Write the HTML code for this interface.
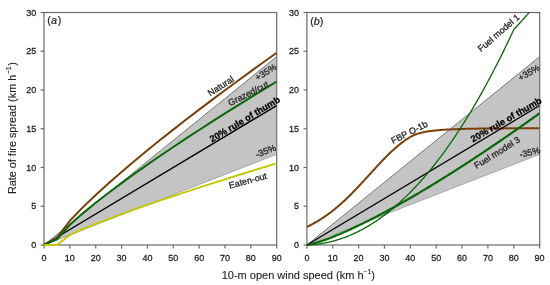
<!DOCTYPE html>
<html><head><meta charset="utf-8"><style>
html,body{margin:0;padding:0;background:#fff;width:550px;height:285px;overflow:hidden}
svg{display:block}
text{font-family:"Liberation Sans",Arial,sans-serif}
.tk{font-size:9px;fill:#222;stroke:#222;stroke-width:0.25px}
.ax{font-size:11px;fill:#222;stroke:#222;stroke-width:0.1px}
.pl{font-size:10.8px;fill:#222;stroke:#222;stroke-width:0.2px}
.lb{font-size:9px;fill:#262626;stroke:#262626;stroke-width:0.3px}
.lbb{font-size:9.25px;font-weight:bold;fill:#000;stroke:#000;stroke-width:0.25px}
</style></head><body>
<svg width="550" height="285" viewBox="0 0 550 285">
<defs><clipPath id="ca"><rect x="44.6" y="12.5" width="231.50" height="232.50"/></clipPath><clipPath id="cb"><rect x="307.5" y="12.5" width="231.60" height="232.50"/></clipPath><clipPath id="la"><rect x="41.5" y="12.5" width="235.20" height="235.00"/></clipPath><clipPath id="lb"><rect x="304.4" y="12.5" width="235.30" height="235.00"/></clipPath></defs>
<rect width="550" height="285" fill="#fff"/>
<rect x="44.0" y="12.5" width="232.70" height="232.50" fill="none" stroke="#6a6a6a" stroke-width="1.2"/>
<line x1="40.60" y1="245.00" x2="44.0" y2="245.00" stroke="#6a6a6a" stroke-width="1.2"/>
<text transform="translate(36.20,248.00) scale(1,1.1)" text-anchor="end" class="tk">0</text>
<line x1="40.60" y1="206.25" x2="44.0" y2="206.25" stroke="#6a6a6a" stroke-width="1.2"/>
<text transform="translate(36.20,209.25) scale(1,1.1)" text-anchor="end" class="tk">5</text>
<line x1="40.60" y1="167.50" x2="44.0" y2="167.50" stroke="#6a6a6a" stroke-width="1.2"/>
<text transform="translate(36.20,170.50) scale(1,1.1)" text-anchor="end" class="tk">10</text>
<line x1="40.60" y1="128.75" x2="44.0" y2="128.75" stroke="#6a6a6a" stroke-width="1.2"/>
<text transform="translate(36.20,131.75) scale(1,1.1)" text-anchor="end" class="tk">15</text>
<line x1="40.60" y1="90.00" x2="44.0" y2="90.00" stroke="#6a6a6a" stroke-width="1.2"/>
<text transform="translate(36.20,93.00) scale(1,1.1)" text-anchor="end" class="tk">20</text>
<line x1="40.60" y1="51.25" x2="44.0" y2="51.25" stroke="#6a6a6a" stroke-width="1.2"/>
<text transform="translate(36.20,54.25) scale(1,1.1)" text-anchor="end" class="tk">25</text>
<line x1="40.60" y1="12.50" x2="44.0" y2="12.50" stroke="#6a6a6a" stroke-width="1.2"/>
<text transform="translate(36.20,15.50) scale(1,1.1)" text-anchor="end" class="tk">30</text>
<line x1="44.00" y1="245.0" x2="44.00" y2="248.60" stroke="#6a6a6a" stroke-width="1.2"/>
<text transform="translate(44.00,261.20) scale(1,1.1)" text-anchor="middle" class="tk">0</text>
<line x1="69.86" y1="245.0" x2="69.86" y2="248.60" stroke="#6a6a6a" stroke-width="1.2"/>
<text transform="translate(69.86,261.20) scale(1,1.1)" text-anchor="middle" class="tk">10</text>
<line x1="95.71" y1="245.0" x2="95.71" y2="248.60" stroke="#6a6a6a" stroke-width="1.2"/>
<text transform="translate(95.71,261.20) scale(1,1.1)" text-anchor="middle" class="tk">20</text>
<line x1="121.57" y1="245.0" x2="121.57" y2="248.60" stroke="#6a6a6a" stroke-width="1.2"/>
<text transform="translate(121.57,261.20) scale(1,1.1)" text-anchor="middle" class="tk">30</text>
<line x1="147.42" y1="245.0" x2="147.42" y2="248.60" stroke="#6a6a6a" stroke-width="1.2"/>
<text transform="translate(147.42,261.20) scale(1,1.1)" text-anchor="middle" class="tk">40</text>
<line x1="173.28" y1="245.0" x2="173.28" y2="248.60" stroke="#6a6a6a" stroke-width="1.2"/>
<text transform="translate(173.28,261.20) scale(1,1.1)" text-anchor="middle" class="tk">50</text>
<line x1="199.13" y1="245.0" x2="199.13" y2="248.60" stroke="#6a6a6a" stroke-width="1.2"/>
<text transform="translate(199.13,261.20) scale(1,1.1)" text-anchor="middle" class="tk">60</text>
<line x1="224.99" y1="245.0" x2="224.99" y2="248.60" stroke="#6a6a6a" stroke-width="1.2"/>
<text transform="translate(224.99,261.20) scale(1,1.1)" text-anchor="middle" class="tk">70</text>
<line x1="250.84" y1="245.0" x2="250.84" y2="248.60" stroke="#6a6a6a" stroke-width="1.2"/>
<text transform="translate(250.84,261.20) scale(1,1.1)" text-anchor="middle" class="tk">80</text>
<line x1="276.70" y1="245.0" x2="276.70" y2="248.60" stroke="#6a6a6a" stroke-width="1.2"/>
<text transform="translate(276.70,261.20) scale(1,1.1)" text-anchor="middle" class="tk">90</text>
<rect x="306.9" y="12.5" width="232.80" height="232.50" fill="none" stroke="#6a6a6a" stroke-width="1.2"/>
<line x1="303.50" y1="245.00" x2="306.9" y2="245.00" stroke="#6a6a6a" stroke-width="1.2"/>
<text transform="translate(299.10,248.00) scale(1,1.1)" text-anchor="end" class="tk">0</text>
<line x1="303.50" y1="206.25" x2="306.9" y2="206.25" stroke="#6a6a6a" stroke-width="1.2"/>
<text transform="translate(299.10,209.25) scale(1,1.1)" text-anchor="end" class="tk">5</text>
<line x1="303.50" y1="167.50" x2="306.9" y2="167.50" stroke="#6a6a6a" stroke-width="1.2"/>
<text transform="translate(299.10,170.50) scale(1,1.1)" text-anchor="end" class="tk">10</text>
<line x1="303.50" y1="128.75" x2="306.9" y2="128.75" stroke="#6a6a6a" stroke-width="1.2"/>
<text transform="translate(299.10,131.75) scale(1,1.1)" text-anchor="end" class="tk">15</text>
<line x1="303.50" y1="90.00" x2="306.9" y2="90.00" stroke="#6a6a6a" stroke-width="1.2"/>
<text transform="translate(299.10,93.00) scale(1,1.1)" text-anchor="end" class="tk">20</text>
<line x1="303.50" y1="51.25" x2="306.9" y2="51.25" stroke="#6a6a6a" stroke-width="1.2"/>
<text transform="translate(299.10,54.25) scale(1,1.1)" text-anchor="end" class="tk">25</text>
<line x1="303.50" y1="12.50" x2="306.9" y2="12.50" stroke="#6a6a6a" stroke-width="1.2"/>
<text transform="translate(299.10,15.50) scale(1,1.1)" text-anchor="end" class="tk">30</text>
<line x1="306.90" y1="245.0" x2="306.90" y2="248.60" stroke="#6a6a6a" stroke-width="1.2"/>
<text transform="translate(306.90,261.20) scale(1,1.1)" text-anchor="middle" class="tk">0</text>
<line x1="332.76" y1="245.0" x2="332.76" y2="248.60" stroke="#6a6a6a" stroke-width="1.2"/>
<text transform="translate(332.76,261.20) scale(1,1.1)" text-anchor="middle" class="tk">10</text>
<line x1="358.61" y1="245.0" x2="358.61" y2="248.60" stroke="#6a6a6a" stroke-width="1.2"/>
<text transform="translate(358.61,261.20) scale(1,1.1)" text-anchor="middle" class="tk">20</text>
<line x1="384.47" y1="245.0" x2="384.47" y2="248.60" stroke="#6a6a6a" stroke-width="1.2"/>
<text transform="translate(384.47,261.20) scale(1,1.1)" text-anchor="middle" class="tk">30</text>
<line x1="410.32" y1="245.0" x2="410.32" y2="248.60" stroke="#6a6a6a" stroke-width="1.2"/>
<text transform="translate(410.32,261.20) scale(1,1.1)" text-anchor="middle" class="tk">40</text>
<line x1="436.18" y1="245.0" x2="436.18" y2="248.60" stroke="#6a6a6a" stroke-width="1.2"/>
<text transform="translate(436.18,261.20) scale(1,1.1)" text-anchor="middle" class="tk">50</text>
<line x1="462.03" y1="245.0" x2="462.03" y2="248.60" stroke="#6a6a6a" stroke-width="1.2"/>
<text transform="translate(462.03,261.20) scale(1,1.1)" text-anchor="middle" class="tk">60</text>
<line x1="487.89" y1="245.0" x2="487.89" y2="248.60" stroke="#6a6a6a" stroke-width="1.2"/>
<text transform="translate(487.89,261.20) scale(1,1.1)" text-anchor="middle" class="tk">70</text>
<line x1="513.74" y1="245.0" x2="513.74" y2="248.60" stroke="#6a6a6a" stroke-width="1.2"/>
<text transform="translate(513.74,261.20) scale(1,1.1)" text-anchor="middle" class="tk">80</text>
<line x1="539.60" y1="245.0" x2="539.60" y2="248.60" stroke="#6a6a6a" stroke-width="1.2"/>
<text transform="translate(539.60,261.20) scale(1,1.1)" text-anchor="middle" class="tk">90</text>
<g clip-path="url(#ca)">
<polygon points="44.00,245.00 276.70,56.67 276.70,154.32 44.00,245.00" fill="#c4c4c4"/>
<polyline points="44.00,245.00 276.70,56.67" fill="none" stroke="#5a5a5a" stroke-width="0.8"/>
<polyline points="44.00,245.00 276.70,154.32" fill="none" stroke="#9a9a9a" stroke-width="0.8"/>
</g>
<g clip-path="url(#la)">
<polyline points="44.00,245.00 276.70,105.50" fill="none" stroke="#000" stroke-width="1.4"/>
<polyline points="44.00,244.72 56.93,237.73 69.86,220.80 82.78,207.35 95.71,194.95 108.64,183.19 121.57,171.89 134.49,160.94 147.42,150.27 160.35,139.84 173.28,129.60 186.21,119.55 199.13,109.65 212.06,99.89 224.99,90.26 237.92,80.74 250.84,71.32 263.77,62.01 276.70,52.78" fill="none" stroke="#7d3f0a" stroke-width="2" stroke-linejoin="round"/>
<polyline points="44.00,244.72 56.93,239.29 69.86,224.85 82.78,213.37 95.71,202.79 108.64,192.76 121.57,183.11 134.49,173.77 147.42,164.66 160.35,155.76 173.28,147.03 186.21,138.45 199.13,130.01 212.06,121.68 224.99,113.46 237.92,105.34 250.84,97.31 263.77,89.36 276.70,81.49" fill="none" stroke="#066806" stroke-width="2" stroke-linejoin="round"/>
<polyline points="44.00,245.00 56.93,245.00 69.86,234.93 82.78,229.20 95.71,223.92 108.64,218.91 121.57,214.10 134.49,209.43 147.42,204.88 160.35,200.44 173.28,196.08 186.21,191.80 199.13,187.58 212.06,183.42 224.99,179.32 237.92,175.26 250.84,171.25 263.77,167.28 276.70,163.35" fill="none" stroke="#c4c800" stroke-width="1.9" stroke-linejoin="round"/>
</g>
<g clip-path="url(#cb)">
<polygon points="306.90,245.00 539.60,56.67 539.60,154.32 306.90,245.00" fill="#c4c4c4"/>
<polyline points="306.90,245.00 539.60,56.67" fill="none" stroke="#5a5a5a" stroke-width="0.8"/>
<polyline points="306.90,245.00 539.60,154.32" fill="none" stroke="#9a9a9a" stroke-width="0.8"/>
</g>
<g clip-path="url(#lb)">
<polyline points="306.90,226.93 308.19,226.30 309.49,225.66 310.78,225.00 312.07,224.32 313.36,223.62 314.66,222.90 315.95,222.16 317.24,221.40 318.53,220.62 319.83,219.83 321.12,219.01 322.41,218.17 323.71,217.31 325.00,216.43 326.29,215.52 327.58,214.60 328.88,213.65 330.17,212.69 331.46,211.70 332.76,210.69 334.05,209.66 335.34,208.61 336.63,207.54 337.93,206.44 339.22,205.33 340.51,204.19 341.80,203.04 343.10,201.86 344.39,200.67 345.68,199.46 346.98,198.23 348.27,196.98 349.56,195.71 350.85,194.43 352.15,193.13 353.44,191.81 354.73,190.48 356.03,189.14 357.32,187.79 358.61,186.42 359.90,185.04 361.20,183.65 362.49,182.26 363.78,180.85 365.07,179.44 366.37,178.03 367.66,176.61 368.95,175.19 370.25,173.77 371.54,172.35 372.83,170.93 374.12,169.51 375.42,168.10 376.71,166.69 378.00,165.29 379.30,163.91 380.59,162.53 381.88,161.16 383.17,159.81 384.47,158.48 385.76,157.16 387.05,155.86 388.34,154.58 389.64,153.32 390.93,152.08 392.22,150.87 393.52,149.68 394.81,148.52 396.10,147.38 397.39,146.28 398.69,145.20 399.98,144.16 401.27,143.14 402.57,142.16 403.86,141.21 405.15,140.29 406.44,139.41 407.74,138.56 409.03,137.75 410.32,136.97 411.62,136.27 412.91,135.63 414.20,135.06 415.49,134.55 416.79,134.08 418.08,133.66 419.37,133.27 420.66,132.92 421.96,132.60 423.25,132.30 424.54,132.04 425.84,131.79 427.13,131.56 428.42,131.35 429.71,131.16 431.01,130.98 432.30,130.81 433.59,130.66 434.88,130.52 436.18,130.39 437.47,130.26 438.76,130.15 440.06,130.04 441.35,129.94 442.64,129.85 443.93,129.76 445.23,129.68 446.52,129.60 447.81,129.53 449.11,129.46 450.40,129.40 451.69,129.34 452.98,129.28 454.28,129.23 455.57,129.17 456.86,129.13 458.15,129.08 459.45,129.04 460.74,129.00 462.03,128.96 463.33,128.93 464.62,128.89 465.91,128.86 467.20,128.83 468.50,128.80 469.79,128.77 471.08,128.75 472.38,128.72 473.67,128.70 474.96,128.68 476.25,128.65 477.55,128.63 478.84,128.61 480.13,128.60 481.42,128.58 482.72,128.56 484.01,128.55 485.30,128.53 486.60,128.52 487.89,128.50 489.18,128.49 490.47,128.48 491.77,128.46 493.06,128.45 494.35,128.44 495.65,128.43 496.94,128.42 498.23,128.41 499.52,128.40 500.82,128.39 502.11,128.38 503.40,128.38 504.69,128.37 505.99,128.36 507.28,128.35 508.57,128.35 509.87,128.34 511.16,128.34 512.45,128.33 513.74,128.32 515.04,128.32 516.33,128.31 517.62,128.31 518.92,128.30 520.21,128.30 521.50,128.30 522.79,128.29 524.09,128.29 525.38,128.28 526.67,128.28 527.96,128.28 529.26,128.27 530.55,128.27 531.84,128.27 533.14,128.26 534.43,128.26 535.72,128.26 537.01,128.26 538.31,128.25 539.60,128.25" fill="none" stroke="#7d3f0a" stroke-width="2" stroke-linejoin="round"/>
<polyline points="306.90,245.00 539.60,105.50" fill="none" stroke="#000" stroke-width="1.4"/>
<polyline points="306.90,245.00 308.19,244.82 309.49,244.57 310.78,244.27 312.07,243.95 313.36,243.61 314.66,243.25 315.95,242.87 317.24,242.47 318.53,242.07 319.83,241.65 321.12,241.21 322.41,240.77 323.71,240.32 325.00,239.86 326.29,239.39 327.58,238.91 328.88,238.42 330.17,237.92 331.46,237.42 332.76,236.91 334.05,236.39 335.34,235.87 336.63,235.34 337.93,234.80 339.22,234.26 340.51,233.71 341.80,233.16 343.10,232.60 344.39,232.03 345.68,231.46 346.98,230.89 348.27,230.31 349.56,229.72 350.85,229.13 352.15,228.54 353.44,227.94 354.73,227.33 356.03,226.72 357.32,226.11 358.61,225.49 359.90,224.87 361.20,224.25 362.49,223.62 363.78,222.98 365.07,222.35 366.37,221.71 367.66,221.06 368.95,220.41 370.25,219.76 371.54,219.10 372.83,218.44 374.12,217.78 375.42,217.11 376.71,216.44 378.00,215.77 379.30,215.09 380.59,214.41 381.88,213.73 383.17,213.05 384.47,212.36 385.76,211.66 387.05,210.97 388.34,210.27 389.64,209.57 390.93,208.86 392.22,208.16 393.52,207.44 394.81,206.73 396.10,206.02 397.39,205.30 398.69,204.57 399.98,203.85 401.27,203.12 402.57,202.39 403.86,201.66 405.15,200.93 406.44,200.19 407.74,199.45 409.03,198.70 410.32,197.96 411.62,197.21 412.91,196.46 414.20,195.71 415.49,194.95 416.79,194.19 418.08,193.43 419.37,192.67 420.66,191.91 421.96,191.14 423.25,190.37 424.54,189.60 425.84,188.82 427.13,188.05 428.42,187.27 429.71,186.49 431.01,185.70 432.30,184.92 433.59,184.13 434.88,183.34 436.18,182.55 437.47,181.75 438.76,180.96 440.06,180.16 441.35,179.36 442.64,178.55 443.93,177.75 445.23,176.94 446.52,176.13 447.81,175.32 449.11,174.51 450.40,173.70 451.69,172.88 452.98,172.06 454.28,171.24 455.57,170.42 456.86,169.59 458.15,168.77 459.45,167.94 460.74,167.11 462.03,166.27 463.33,165.44 464.62,164.60 465.91,163.77 467.20,162.93 468.50,162.09 469.79,161.24 471.08,160.40 472.38,159.55 473.67,158.70 474.96,157.85 476.25,157.00 477.55,156.14 478.84,155.29 480.13,154.43 481.42,153.57 482.72,152.71 484.01,151.85 485.30,150.98 486.60,150.12 487.89,149.25 489.18,148.38 490.47,147.51 491.77,146.64 493.06,145.76 494.35,144.89 495.65,144.01 496.94,143.13 498.23,142.25 499.52,141.37 500.82,140.48 502.11,139.60 503.40,138.71 504.69,137.82 505.99,136.93 507.28,136.04 508.57,135.14 509.87,134.25 511.16,133.35 512.45,132.45 513.74,131.55 515.04,130.65 516.33,129.75 517.62,128.85 518.92,127.94 520.21,127.03 521.50,126.12 522.79,125.21 524.09,124.30 525.38,123.39 526.67,122.48 527.96,121.56 529.26,120.64 530.55,119.72 531.84,118.80 533.14,117.88 534.43,116.96 535.72,116.03 537.01,115.11 538.31,114.18 539.60,113.25" fill="none" stroke="#066806" stroke-width="2.2" stroke-linejoin="round"/>
<polyline points="306.90,245.00 308.19,244.95 309.49,244.89 310.78,244.81 312.07,244.72 313.36,244.61 314.66,244.48 315.95,244.35 317.24,244.20 318.53,244.03 319.83,243.85 321.12,243.65 322.41,243.44 323.71,243.21 325.00,242.97 326.29,242.71 327.58,242.44 328.88,242.16 330.17,241.85 331.46,241.54 332.76,241.21 334.05,240.86 335.34,240.50 336.63,240.12 337.93,239.73 339.22,239.32 340.51,238.89 341.80,238.45 343.10,238.00 344.39,237.53 345.68,237.05 346.98,236.54 348.27,236.03 349.56,235.50 350.85,234.95 352.15,234.38 353.44,233.80 354.73,233.21 356.03,232.60 357.32,231.97 358.61,231.33 359.90,230.67 361.20,230.00 362.49,229.31 363.78,228.60 365.07,227.88 366.37,227.14 367.66,226.39 368.95,225.62 370.25,224.83 371.54,224.03 372.83,223.21 374.12,222.38 375.42,221.53 376.71,220.66 378.00,219.78 379.30,218.88 380.59,217.96 381.88,217.03 383.17,216.08 384.47,215.11 385.76,214.13 387.05,213.13 388.34,212.12 389.64,211.08 390.93,210.03 392.22,208.97 393.52,207.89 394.81,206.79 396.10,205.67 397.39,204.54 398.69,203.39 399.98,202.23 401.27,201.04 402.57,199.84 403.86,198.63 405.15,197.39 406.44,196.14 407.74,194.87 409.03,193.59 410.32,192.29 411.62,190.97 412.91,189.63 414.20,188.28 415.49,186.90 416.79,185.52 418.08,184.11 419.37,182.69 420.66,181.25 421.96,179.79 423.25,178.31 424.54,176.82 425.84,175.31 427.13,173.78 428.42,172.24 429.71,170.67 431.01,169.09 432.30,167.49 433.59,165.88 434.88,164.24 436.18,162.59 437.47,160.92 438.76,159.23 440.06,157.53 441.35,155.81 442.64,154.06 443.93,152.31 445.23,150.53 446.52,148.73 447.81,146.92 449.11,145.09 450.40,143.24 451.69,141.37 452.98,139.48 454.28,137.58 455.57,135.66 456.86,133.72 458.15,131.76 459.45,129.78 460.74,127.78 462.03,125.77 463.33,123.73 464.62,121.68 465.91,119.61 467.20,117.52 468.50,115.42 469.79,113.29 471.08,111.15 472.38,108.98 473.67,106.80 474.96,104.60 476.25,102.38 477.55,100.14 478.84,97.88 480.13,95.61 481.42,93.31 482.72,91.00 484.01,88.66 485.30,86.31 486.60,83.94 487.89,81.55 489.18,79.14 490.47,76.71 491.77,74.26 493.06,71.80 494.35,69.31 495.65,66.80 496.94,64.28 498.23,61.73 499.52,59.17 500.82,56.59 502.11,53.98 503.40,51.36 504.69,48.72 505.99,46.06 507.28,43.38 508.57,40.68 509.87,37.96 511.16,35.22 512.45,32.46 513.74,29.68 515.04,28.24 516.33,26.81 517.62,25.38 518.92,23.94 520.21,22.51 521.50,21.08 522.79,19.64 524.09,18.21 525.38,16.77 526.67,15.34 527.96,13.91 529.26,12.47 530.55,11.04 531.84,9.61 533.14,8.17 534.43,6.74 535.72,5.30 537.01,3.87 538.31,2.44 539.60,1.00" fill="none" stroke="#066806" stroke-width="1.3" stroke-linejoin="round"/>
</g>
<text x="47.3" y="24.4" class="pl">(<tspan font-style="italic">a</tspan><tspan dx="0.7">)</tspan></text>
<text x="310.2" y="25.3" class="pl">(<tspan font-style="italic">b</tspan>)</text>
<text transform="translate(210.30,96.50) rotate(-33)" text-anchor="start" class="lb">Natural</text>
<text transform="translate(230.00,106.30) rotate(-27)" text-anchor="start" class="lb">Grazed/cut</text>
<text transform="translate(257.60,81.00) rotate(-33)" text-anchor="start" class="lb">+35%</text>
<text transform="translate(212.00,142.60) rotate(-31)" text-anchor="start" class="lbb">20% rule of thumb</text>
<text transform="translate(257.00,157.70) rotate(-21)" text-anchor="start" class="lb">-35%</text>
<text transform="translate(229.80,188.70) rotate(-15)" text-anchor="start" class="lb">Eaten-out</text>
<text transform="translate(481.00,52.30) rotate(-41)" text-anchor="start" class="lb">Fuel model 1</text>
<text transform="translate(520.60,81.30) rotate(-31)" text-anchor="start" class="lb">+35%</text>
<text transform="translate(473.00,142.50) rotate(-30)" text-anchor="start" class="lbb">20% rule of thumb</text>
<text transform="translate(393.00,144.00) rotate(-27)" text-anchor="start" class="lb">FBP O-1b</text>
<text transform="translate(476.60,169.00) rotate(-32)" text-anchor="start" class="lb">Fuel model 3</text>
<text transform="translate(520.30,157.80) rotate(-13)" text-anchor="start" class="lb">-35%</text>
<text transform="translate(15.9,194.1) rotate(-90)" class="ax" style="font-size:10.85px">Rate of fire spread (km h<tspan dx="0.4" dy="-4.6" font-size="7">−1</tspan><tspan dx="0.6" dy="4.6">)</tspan></text>
<text x="298.3" y="278.8" text-anchor="middle" class="ax">10-m open wind speed (km h<tspan dy="-5" font-size="6.8">−1</tspan><tspan dy="5">)</tspan></text>
</svg>
</body></html>
